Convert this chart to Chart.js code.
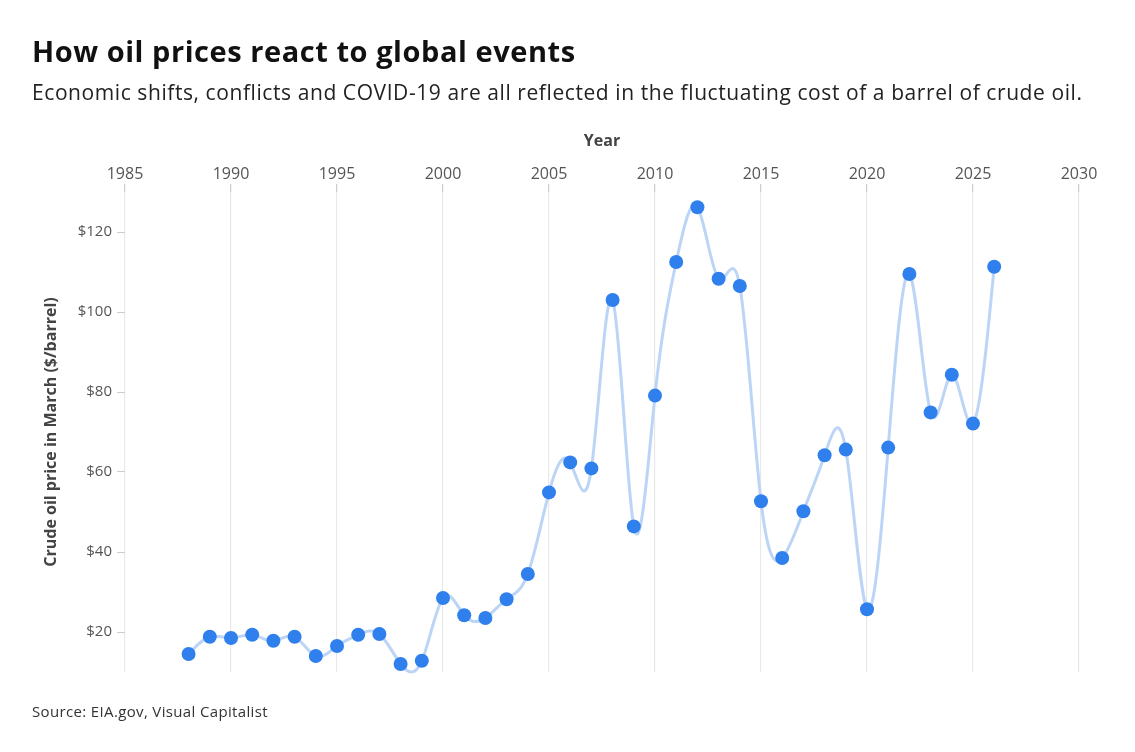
<!DOCTYPE html>
<html>
<head>
<meta charset="utf-8">
<script src="https://cdn.jsdelivr.net/npm/chart.js@4/dist/chart.umd.min.js"></script>
<style>
  html, body { margin: 0; padding: 0; background: #fff; }
  body { width: 1135px; height: 752px; position: relative; overflow: hidden; font-family: "Open Sans", "Noto Sans", sans-serif; }
  #title { position: absolute; left: 32px; top: 31px; margin: 0; font-size: 29px; font-weight: 700; color: #111; letter-spacing: 0.55px; line-height: 40px; }
  #subtitle { position: absolute; left: 32px; top: 78px; margin: 0; font-size: 21px; color: #222; letter-spacing: 0.58px; line-height: 28px; }
  #source { position: absolute; left: 32px; top: 701px; margin: 0; font-size: 15px; color: #333; letter-spacing: 0.35px; line-height: 20px; }
  #wrap { position: absolute; left: 0; top: 0; width: 1135px; height: 752px; }
</style>
</head>
<body>
<div id="wrap"><canvas id="c" width="1135" height="752"></canvas></div>
<p id="title">How oil prices react to global events</p>
<p id="subtitle">Economic shifts, conflicts and COVID-19 are all reflected in the fluctuating cost of a barrel of crude oil.</p>
<p id="source">Source: EIA.gov, Visual Capitalist</p>
<script>
const years = [1988,1989,1990,1991,1992,1993,1994,1995,1996,1997,1998,1999,2000,2001,2002,2003,2004,2005,2006,2007,2008,2009,2010,2011,2012,2013,2014,2015,2016,2017,2018,2019,2020,2021,2022,2023,2024,2025,2026];
const prices = [14.5,18.8,18.5,19.3,17.8,18.8,14.0,16.5,19.3,19.5,12.0,12.8,28.5,24.2,23.5,28.2,34.5,54.9,62.4,60.9,103.0,46.4,79.1,112.5,126.2,108.3,106.5,52.7,38.5,50.2,64.2,65.6,25.7,66.1,109.5,74.9,84.3,72.1,111.3];
const xTicks = [1985,1990,1995,2000,2005,2010,2015,2020,2025,2030];
const yTicks = [20,40,60,80,100,120];

const points = years.map((y, i) => ({ x: y, y: prices[i] }));
const FONT = '"Open Sans", "Noto Sans", sans-serif';

// Natural cubic spline for the line's control points (computed from the
// library's own pixel positions of the data points).
const naturalSpline = {
  id: 'naturalSpline',
  beforeDatasetDraw(chart, args) {
    const meta = args.meta;
    const line = meta.dataset;
    if (!line) return;
    if (line.updateControlPoints) line.updateControlPoints(chart.chartArea, 'x');
    const pts = meta.data;
    const n = pts.length;
    if (n < 3) return;
    const xs = pts.map(p => p.x), ys = pts.map(p => p.y);
    const h = [];
    for (let i = 0; i < n - 1; i++) h.push(xs[i + 1] - xs[i]);
    const a = new Array(n).fill(0), b = new Array(n).fill(1), c = new Array(n).fill(0), d = new Array(n).fill(0);
    for (let i = 1; i < n - 1; i++) {
      a[i] = h[i - 1];
      b[i] = 2 * (h[i - 1] + h[i]);
      c[i] = h[i];
      d[i] = 6 * ((ys[i + 1] - ys[i]) / h[i] - (ys[i] - ys[i - 1]) / h[i - 1]);
    }
    for (let i = 1; i < n; i++) {
      const m = a[i] / b[i - 1];
      b[i] -= m * c[i - 1];
      d[i] -= m * d[i - 1];
    }
    const M = new Array(n).fill(0);
    M[n - 1] = d[n - 1] / b[n - 1];
    for (let i = n - 2; i >= 0; i--) M[i] = (d[i] - c[i] * M[i + 1]) / b[i];
    M[0] = 0; M[n - 1] = 0;
    const slope = new Array(n);
    for (let i = 0; i < n; i++) {
      if (i < n - 1) {
        slope[i] = (ys[i + 1] - ys[i]) / h[i] - h[i] * (2 * M[i] + M[i + 1]) / 6;
      } else {
        slope[i] = (ys[i] - ys[i - 1]) / h[i - 1] + h[i - 1] * (M[i - 1] + 2 * M[i]) / 6;
      }
    }
    for (let i = 0; i < n; i++) {
      const p = pts[i];
      const hp = i > 0 ? h[i - 1] : 0;
      const hn = i < n - 1 ? h[i] : 0;
      p.cp1x = xs[i] - hp / 3; p.cp1y = ys[i] - slope[i] * hp / 3;
      p.cp2x = xs[i] + hn / 3; p.cp2y = ys[i] + slope[i] * hn / 3;
    }
    line._path = undefined;
  }
};

new Chart(document.getElementById('c'), {
  type: 'line',
  data: {
    datasets: [{
      data: points,
      borderColor: '#bcd5f6',
      borderWidth: 3,
      tension: 0.4,
      pointRadius: 7,
      pointHoverRadius: 7,
      pointBackgroundColor: '#2f80ed',
      pointBorderColor: '#2f80ed',
      pointBorderWidth: 0,
      clip: false
    }]
  },
  plugins: [naturalSpline],
  options: {
    responsive: false,
    animation: false,
    layout: { padding: { left: 42, top: 132, right: 56, bottom: 80 } },
    plugins: { legend: { display: false }, tooltip: { enabled: false } },
    scales: {
      x: {
        type: 'linear',
        position: 'top',
        min: 1985, max: 2030,
        afterBuildTicks: s => { s.ticks = xTicks.map(v => ({ value: v })); },
        afterFit: s => { s.height = 60; },
        ticks: {
          color: '#555',
          font: { family: FONT, size: 16 },
          padding: 0,
          maxRotation: 0,
          callback: v => String(v)
        },
        grid: { color: '#e8e8e8', tickColor: '#cccccc', tickLength: 8, lineWidth: 1.2 },
        border: { display: false },
        title: {
          display: true,
          text: 'Year',
          color: '#444',
          font: { family: FONT, size: 16, weight: 'bold' },
          padding: { top: 0, bottom: 0 }
        }
      },
      y: {
        type: 'linear',
        min: 10, max: 130,
        afterBuildTicks: s => { s.ticks = yTicks.map(v => ({ value: v })); },
        afterFit: s => { s.width = 125 - 42; },
        ticks: {
          color: '#555',
          font: { family: FONT, size: 15 },
          padding: 5,
          callback: v => '$' + v
        },
        grid: { drawOnChartArea: false, tickColor: '#cccccc', tickLength: 8 },
        border: { display: false },
        title: {
          display: true,
          text: 'Crude oil price in March ($/barrel)',
          color: '#444',
          font: { family: FONT, size: 16, weight: 'bold' },
          padding: { top: 0, bottom: 0 }
        }
      }
    }
  }
});
</script>
</body>
</html>
